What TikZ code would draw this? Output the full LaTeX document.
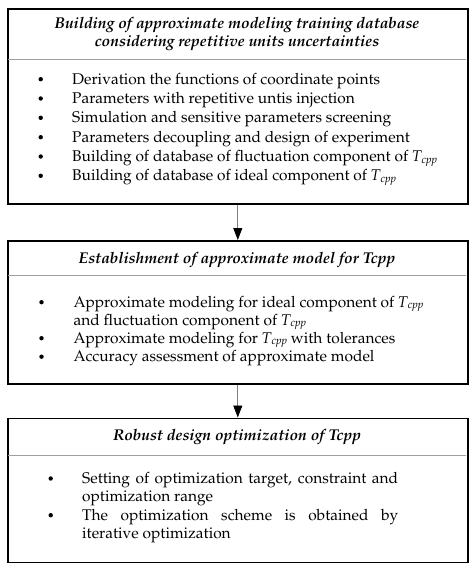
\documentclass[tikz,border=0pt]{standalone}
\usepackage[T1]{fontenc}
\usepackage{mathpazo}
\usetikzlibrary{arrows.meta}
\definecolor{sepgray}{HTML}{A0A0A0}
\definecolor{arrgray}{HTML}{808080}
\tikzset{
  box/.style={draw=black, line width=1.6pt, rectangle, anchor=north west, inner sep=0pt},
  sepline/.style={draw=sepgray, line width=0.9pt},
  hdr/.style={font=\fontsize{15.6}{18}\selectfont\bfseries\itshape, anchor=base, inner sep=0pt},
  body/.style={font=\fontsize{15.5}{18}\selectfont, anchor=base west, inner sep=0pt},
  bul/.style={circle, fill=black, inner sep=0pt, minimum size=4.4pt},
  arr/.style={draw=arrgray, line width=0.9pt, -{Triangle[width=9pt,length=12pt,color=black]}}
}
\newcommand{\Tc}{\textit{T}\kern-0.3pt\raisebox{-1.8pt}{\fontsize{11}{11}\selectfont\itshape cpp}}
\begin{document}
\begin{tikzpicture}[x=1pt,y=-1pt]
\useasboundingbox (0,0) rectangle (474,568);
% boxes
\node[box, minimum width=460pt, minimum height=195pt] (b1) at (7,8) {};
\node[box, minimum width=460pt, minimum height=143pt] (b2) at (7,240) {};
\node[box, minimum width=460pt, minimum height=144pt] (b3) at (7,417.5) {};
% separators
\draw[sepline] (8,59) -- (466,59);
\draw[sepline] (8,275) -- (466,275);
\draw[sepline] (8,455) -- (466,455);
% headers
\node[hdr] (h1a) at (237,28.3) {Building of approximate modeling training database};
\node[hdr] (h1b) at (237,46.7) {considering repetitive units uncertainties};
\node[hdr] (h2) at (237,263.3) {Establishment of approximate model for Tcpp};
\node[hdr] (h3) at (237,440) {Robust design optimization of Tcpp};
% box 1 body
\foreach \y [count=\i] in {84,103.3,122.6,142,161.3,180.6}{
  \node[bul] (p1\i) at (40.7,\y-4.8) {};
}
\node[body] (t11) at (72,84) {Derivation the functions of coordinate points};
\node[body] (t12) at (72,103.3) {Parameters with repetitive untis injection};
\node[body] (t13) at (72,122.6) {Simulation and sensitive parameters screening};
\node[body] (t14) at (72,142) {Parameters decoupling and design of experiment};
\node[body] (t15) at (72,161.3) {Building of database of fluctuation component of \Tc};
\node[body] (t16) at (72,180.6) {Building of database of ideal component of \Tc};
% box 2 body
\node[bul] (p21) at (41.5,307-4.8) {};
\node[bul] (p22) at (41.5,343-4.8) {};
\node[bul] (p23) at (41.5,361.5-4.8) {};
\node[body] (t21) at (73.3,307) {Approximate modeling for ideal component of \Tc};
\node[body] (t21b) at (73.3,325) {and fluctuation component of \Tc};
\node[body] (t22) at (73.3,343) {Approximate modeling for \Tc{} with tolerances};
\node[body] (t23) at (73.3,361.5) {Accuracy assessment of approximate model};
% box 3 body
\node[bul] (p31) at (50.7,483.3-4.8) {};
\node[bul] (p32) at (50.7,520-4.8) {};
\node[body] (t31) at (82,483.3) {\makebox[316pt][s]{Setting of optimization target, constraint and}};
\node[body] (t31b) at (82,501.5) {optimization range};
\node[body] (t32) at (82,520) {\makebox[316pt][s]{The optimization scheme is obtained by}};
\node[body] (t32b) at (82,538.5) {iterative optimization};
% arrows
\draw[arr] (b1.south) -- (b2.north);
\draw[arr] (b2.south) -- (b3.north);
\end{tikzpicture}
\end{document}
